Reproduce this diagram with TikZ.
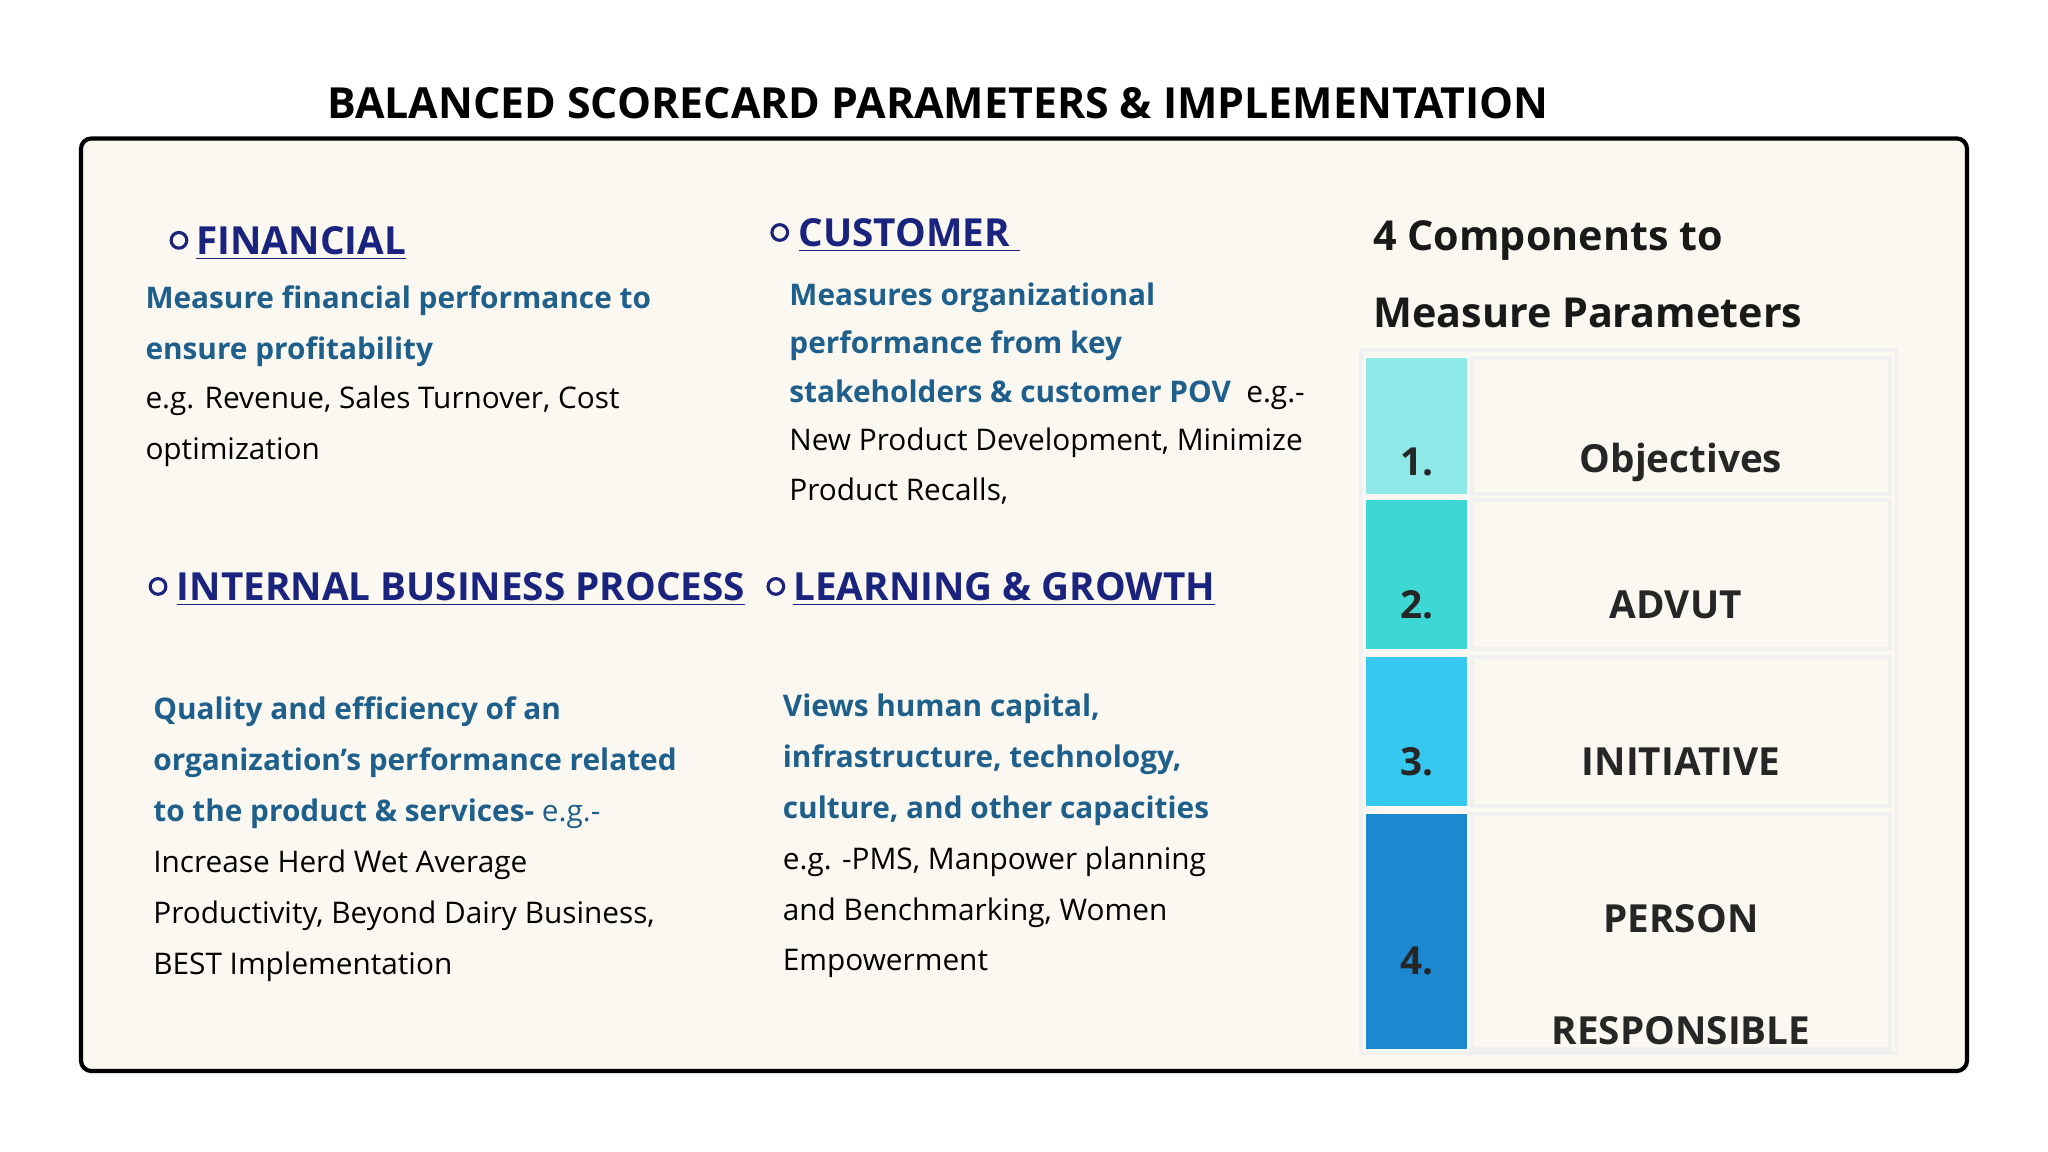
\documentclass[tikz,border=0pt]{standalone}
\usepackage{fontspec}
\setmainfont{Open Sans}
\begin{document}
\begin{tikzpicture}[x=0.5pt,y=-0.5pt,
  txt/.style={anchor=west,inner sep=0pt,font=\fontsize{11.4pt}{14pt}\selectfont},
  bl/.style={txt,text=teal1,font=\fontsize{11.4pt}{14pt}\selectfont\bfseries},
  head/.style={anchor=west,inner sep=0pt,text=navy,font=\fontsize{14.8pt}{18pt}\selectfont\bfseries},
  bul/.style={circle,draw=navy,line width=1.2pt,inner sep=0pt,minimum size=6pt},
  num/.style={inner sep=0pt,font=\fontsize{14.8pt}{18pt}\selectfont\bfseries,text=black!85},
  lab/.style={inner sep=0pt,font=\fontsize{14.8pt}{18pt}\selectfont\bfseries,text=black!85},
  cell/.style={draw=gray!12,line width=1.5pt,fill=cream}]
\definecolor{navy}{HTML}{1A237E}
\definecolor{teal1}{HTML}{1F5F8B}
\definecolor{cream}{HTML}{FAF8F0}
\definecolor{c1}{HTML}{8EE8E8}
\definecolor{c2}{HTML}{3ED8D4}
\definecolor{c3}{HTML}{36C8EE}
\definecolor{c4}{HTML}{1C88D0}
\useasboundingbox (0,0) rectangle (1568,882);
\fill[white] (0,0) rectangle (1568,882);
\node[inner sep=0pt,font=\fontsize{16.4pt}{20pt}\selectfont\bfseries] (title) at (718,79) {BALANCED SCORECARD PARAMETERS \& IMPLEMENTATION};
\draw[line width=1.6pt,rounded corners=4pt,fill=cream] (62,106) rectangle (1506,820);
% Financial
\node[bul] (b1) at (137,184) {};
\node[head] (fin) at (150,186) {\underline{FINANCIAL}};
\node[bl] (f1) at (111,230) {Measure financial performance to};
\node[bl] (f2) at (111,269) {ensure profitability};
\node[txt] (f3) at (111,307) {e.g. Revenue, Sales Turnover, Cost};
\node[txt] (f4) at (111,346) {optimization};
% Customer
\node[bul] (b2) at (597,178) {};
\node[head] (cus) at (611,180) {\underline{CUSTOMER\ }};
\node[bl] (c1t) at (604,228) {Measures organizational};
\node[bl] (c2t) at (604,265) {performance from key};
\node[txt] (c3t) at (604,302) {\textbf{\color{teal1}stakeholders \& customer POV}\ \ e.g.-};
\node[txt] (c4t) at (604,339) {New Product Development, Minimize};
\node[txt] (c5t) at (604,376) {Product Recalls,};
% Internal
\node[bul] (b3) at (121,449) {};
\node[head] (int) at (135,451) {\underline{INTERNAL BUSINESS PROCESS}};
\node[bl] (i1) at (117,545) {Quality and efficiency of an};
\node[bl] (i2) at (117,584) {organization’s performance related};
\node[bl] (i3) at (117,623) {to the product \& services- {\mdseries e.g.-}};
\node[txt] (i4) at (117,662) {Increase Herd Wet Average};
\node[txt] (i5) at (117,701) {Productivity, Beyond Dairy Business,};
\node[txt] (i6) at (117,740) {BEST Implementation};
% Learning
\node[bul] (b4) at (594,449) {};
\node[head] (lea) at (607,451) {\underline{LEARNING \& GROWTH}};
\node[bl] (l1) at (599,543) {Views human capital,};
\node[bl] (l2) at (599,582) {infrastructure, technology,};
\node[bl] (l3) at (599,621) {culture, and other capacities};
\node[txt] (l4) at (599,660) {e.g. -PMS, Manpower planning};
\node[txt] (l5) at (599,699) {and Benchmarking, Women};
\node[txt] (l6) at (599,738) {Empowerment};
% Components
\node[anchor=west,inner sep=0pt,font=\fontsize{15.8pt}{19pt}\selectfont\bfseries,text=black!90] (k1) at (1051,184) {4 Components to};
\node[anchor=west,inner sep=0pt,font=\fontsize{15.8pt}{19pt}\selectfont\bfseries,text=black!90] (k2) at (1051,240) {Measure Parameters};
\draw[draw=gray!12,line width=1.5pt] (1042,268) rectangle (1452,806);
\fill[c1] (1046,274) rectangle (1123,378);
\fill[c2] (1046,383) rectangle (1123,497);
\fill[c3] (1046,503) rectangle (1123,617);
\fill[c4] (1046,623) rectangle (1123,803);
\draw[cell] (1127,274) rectangle (1447,378);
\draw[cell] (1127,383) rectangle (1447,497);
\draw[cell] (1127,503) rectangle (1447,617);
\draw[cell] (1127,623) rectangle (1447,803);
\node[num] (n1) at (1085,354) {1.};
\node[num] (n2) at (1085,463) {2.};
\node[num] (n3) at (1085,583) {3.};
\node[num] (n4) at (1085,736) {4.};
\node[lab] (r1) at (1287,354) {Objectives};
\node[lab] (r2) at (1283,463) {ADVUT};
\node[lab] (r3) at (1287,583) {INITIATIVE};
\node[lab] (r4) at (1287,703) {PERSON};
\node[lab] (r5) at (1287,789) {RESPONSIBLE};
\end{tikzpicture}
\end{document}
